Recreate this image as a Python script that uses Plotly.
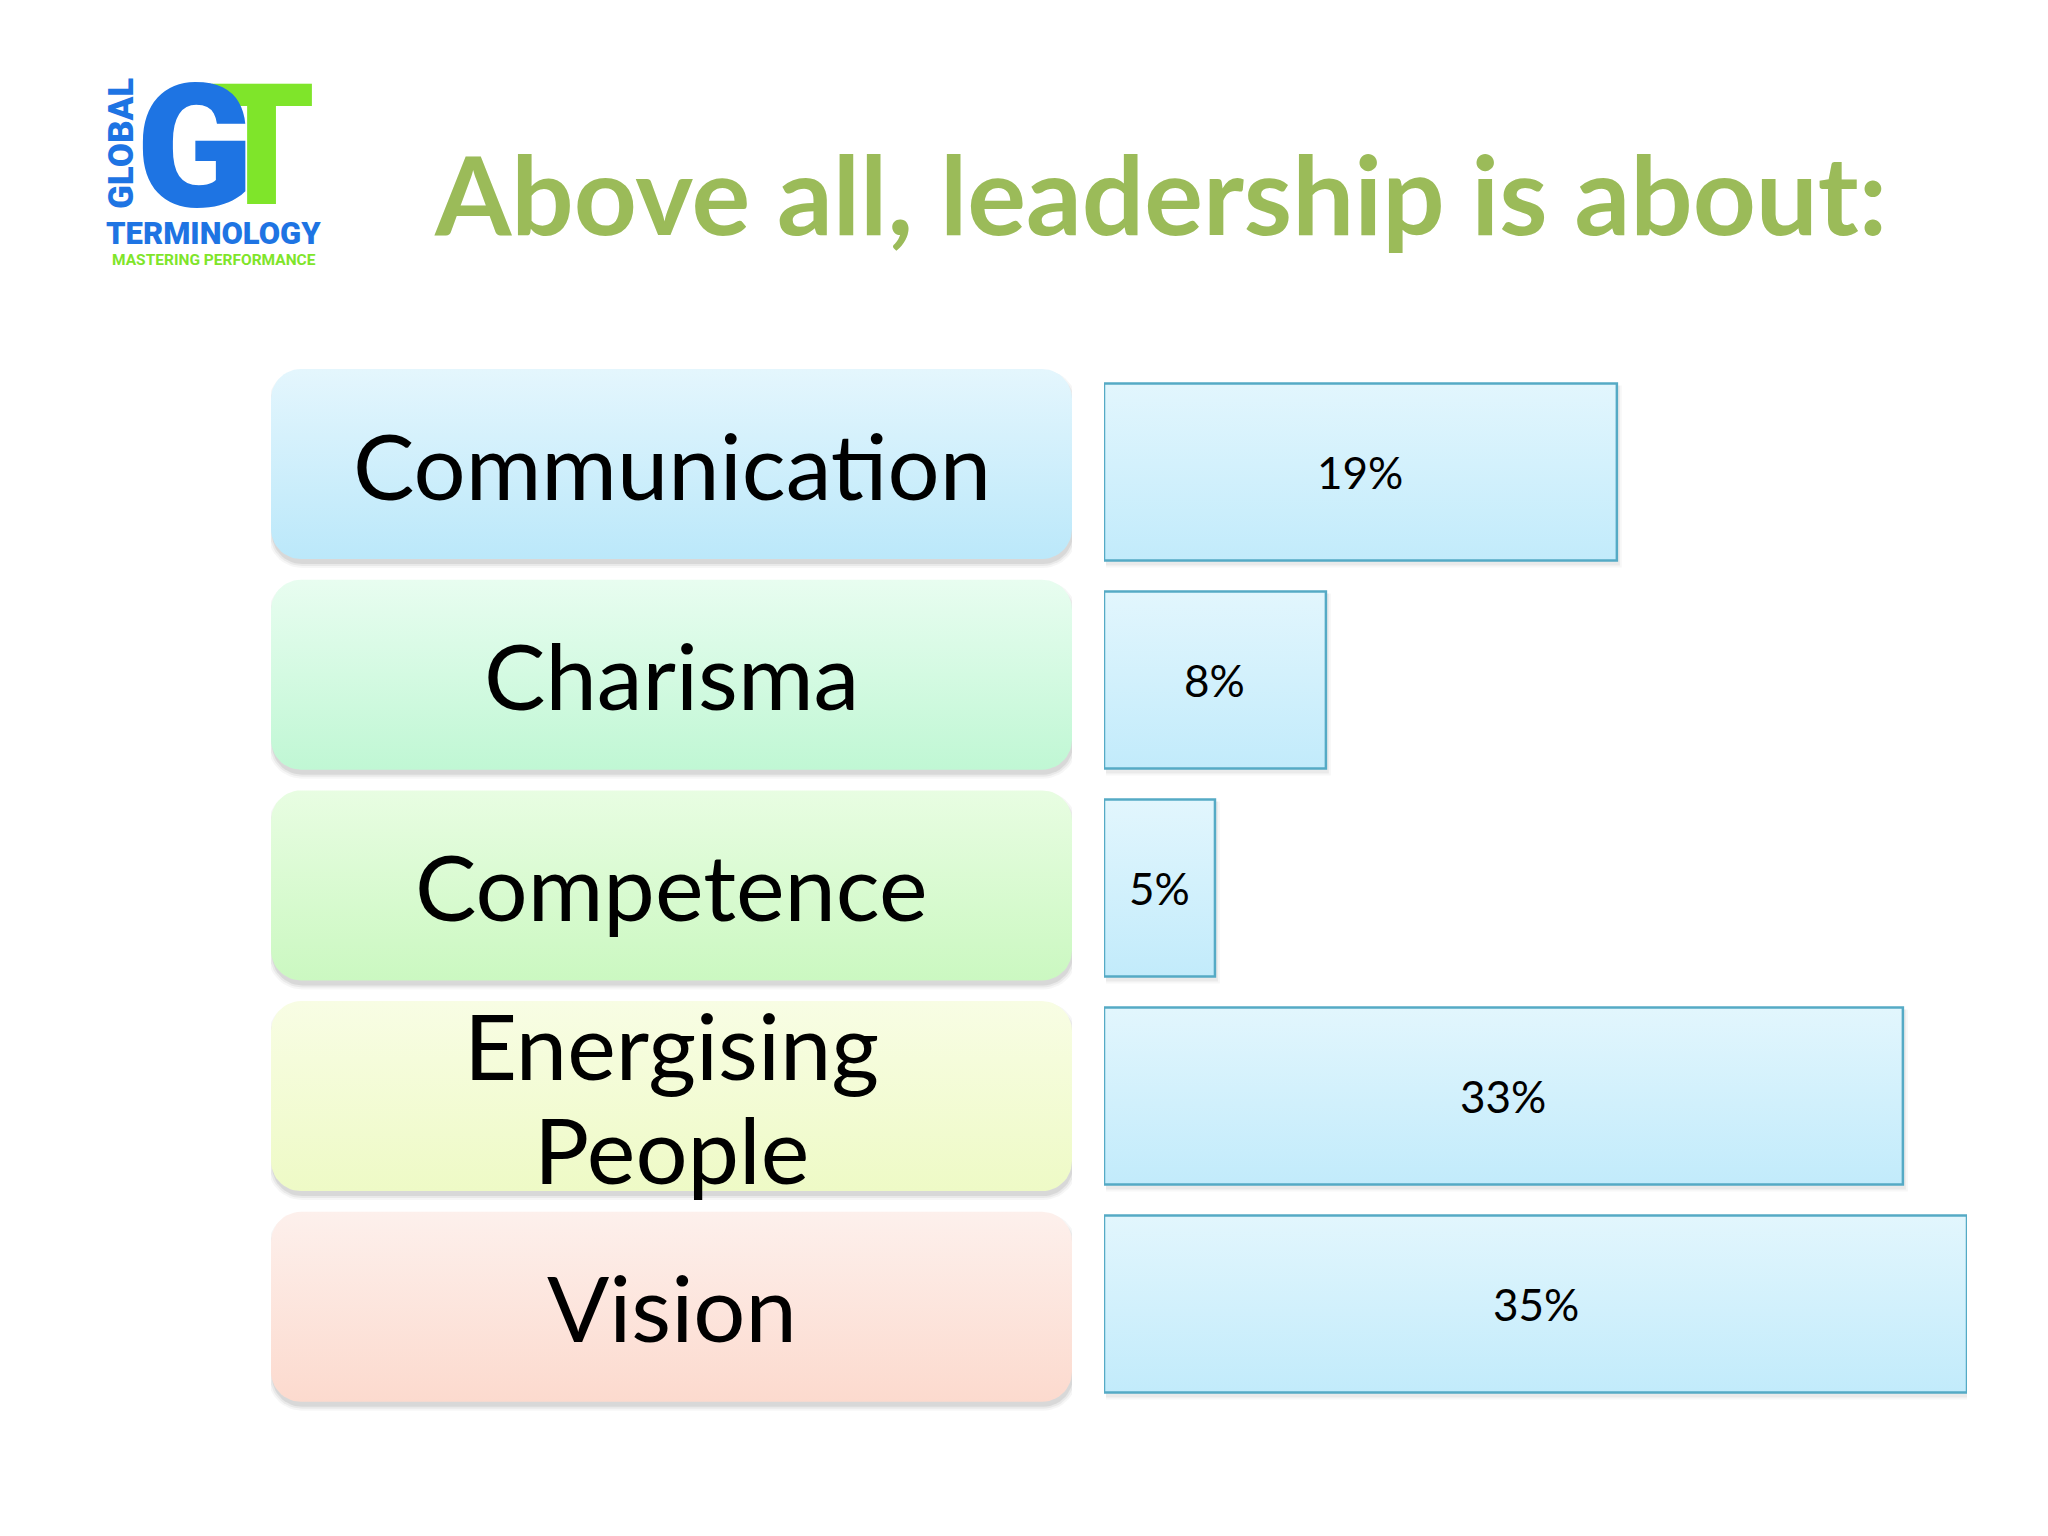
import numpy as np
import plotly.graph_objects as go

# ---------------- data ----------------
categories = ["Communication", "Charisma", "Competence", "Energising\nPeople", "Vision"]
share_labels = ["19%", "8%", "5%", "33%", "35%"]
# drawn bar lengths (percentage units)
bar_length = [20.8, 9.0, 4.5, 32.4, 35.0]

title_text = "Above all, leadership is about:"

# ---------------- style ----------------
W, H = 2048, 1536
BAR_X0, BAR_XMAX = 1104, 1967
BAR_Y0, BAR_PITCH, BAR_HALF = 472, 208, 88.5
BOX_X0, BOX_X1 = 271, 1072
BOX_Y0, BOX_PITCH, BOX_HALF, BOX_R = 464, 210.7, 95, 30

box_top = ["#E4F6FD", "#E8FDF0", "#E8FDE2", "#F8FDE4", "#FDF0EC"]
box_bot = ["#BBE8FA", "#C0F7D4", "#CBF8C1", "#EEFAC6", "#FCDACE"]
bar_top, bar_bot = "#E2F6FD", "#C2EBFB"
bar_line = "#55AAC5"
BLUE, GREEN = "#1E74E3", "#7FE52A"
TITLE_GREEN = "#9BBB59"

xmax = max(bar_length)
ux_bar = xmax / (BAR_XMAX - BAR_X0)      # data units per px
uy_bar = 1.0 / BAR_PITCH
ux_box = 1.0 / (BOX_X1 - BOX_X0)
uy_box = 1.0 / BOX_PITCH


def rounded_rect(x0, x1, y0, y1, rx, ry, n=14):
    xs, ys = [], []
    corners = [((x0 + rx, y0 + ry), 180, 270), ((x1 - rx, y0 + ry), 270, 360),
               ((x1 - rx, y1 - ry), 0, 90), ((x0 + rx, y1 - ry), 90, 180)]
    for (cx, cy), a0, a1 in corners:
        t = np.radians(np.linspace(a0, a1, n))
        xs.extend(cx + rx * np.cos(t))
        ys.extend(cy + ry * np.sin(t))
    xs.append(xs[0]); ys.append(ys[0])
    return xs, ys


fig = go.Figure()

# ---- category boxes (x2 / y2) ----
hb = BOX_HALF * uy_box
for i, cat in enumerate(categories):
    # soft shadow
    for grow, alpha in [(4, 0.035), (2, 0.05), (0, 0.07)]:
        sx, sy = rounded_rect(0 - grow * ux_box + 1 * ux_box, 1 + grow * ux_box + 1 * ux_box,
                              i - hb - grow * uy_box + 5 * uy_box, i + hb + grow * uy_box + 5 * uy_box,
                              (BOX_R + grow) * ux_box, (BOX_R + grow) * uy_box)
        fig.add_trace(go.Scatter(x=sx, y=sy, xaxis="x2", yaxis="y2", mode="lines",
                                 fill="toself", fillcolor=f"rgba(0,0,0,{alpha})",
                                 line=dict(width=0), hoverinfo="skip", showlegend=False))
    bx, by = rounded_rect(0, 1, i - hb, i + hb, BOX_R * ux_box, BOX_R * uy_box)
    fig.add_trace(go.Scatter(x=bx, y=by, xaxis="x2", yaxis="y2", mode="lines",
                             fill="toself", fillcolor=box_bot[i],
                             fillgradient=dict(type="vertical",
                                               colorscale=[[0, box_bot[i]], [1, box_top[i]]]),
                             line=dict(width=0), hoverinfo="skip", showlegend=False))
    lines = cat.split("\n")
    for k, line in enumerate(lines):
        fig.add_annotation(x=0.5, y=i, xref="x2", yref="y2", text=line, showarrow=False,
                           xanchor="center", yanchor="middle",
                           yshift=((len(lines) - 1) / 2 - k) * 104,
                           font=dict(family="Lato", size=92, color="#000000"))

# ---- bars (x / y) ----
hbar = BAR_HALF * uy_bar
for i, v in enumerate(bar_length):
    xs = [0, v, v, 0, 0]
    ys = [i - hbar, i - hbar, i + hbar, i + hbar, i - hbar]
    for grow, alpha in [(3, 0.03), (1, 0.05)]:
        dx, dy = (2 + grow) * ux_bar, (4 + grow) * uy_bar
        sx = [0 + 2 * ux_bar, v + dx, v + dx, 0 + 2 * ux_bar, 0 + 2 * ux_bar]
        sy = [i - hbar + 2 * uy_bar, i - hbar + 2 * uy_bar, i + hbar + dy, i + hbar + dy,
              i - hbar + 2 * uy_bar]
        fig.add_trace(go.Scatter(x=sx, y=sy, mode="lines", fill="toself",
                                 fillcolor=f"rgba(0,0,0,{alpha})", line=dict(width=0),
                                 hoverinfo="skip", showlegend=False))
    fig.add_trace(go.Scatter(x=xs, y=ys, mode="lines", fill="toself", fillcolor=bar_bot,
                             fillgradient=dict(type="vertical",
                                               colorscale=[[0, bar_bot], [1, bar_top]]),
                             line=dict(color=bar_line, width=2.5),
                             hoverinfo="skip", showlegend=False))
    fig.add_annotation(x=v / 2, y=i, xref="x", yref="y", text=share_labels[i],
                       showarrow=False, xanchor="center", yanchor="middle",
                       font=dict(family="Lato", size=44, color="#000000"))

# ---- title ----
fig.add_annotation(x=1160 / W, y=1 - 192 / H, xref="paper", yref="paper", text=title_text,
                   showarrow=False, xanchor="center", yanchor="middle",
                   font=dict(family="Lato", size=110, color=TITLE_GREEN, weight="bold"))

# ---- logo ----
def logo(text, cx, cy, size, color, angle=0, weight=900):
    fig.add_annotation(x=cx / W, y=1 - cy / H, xref="paper", yref="paper", text=text,
                       showarrow=False, xanchor="center", yanchor="middle", textangle=angle,
                       font=dict(family="Roboto", size=size, color=color, weight=weight))

logo("T", 262, 146, 168, GREEN)
logo("G", 194, 147, 172, BLUE)
logo("GLOBAL", 121, 144, 35, BLUE, angle=-90)
logo("TERMINOLOGY", 213, 233, 31, BLUE)
logo("MASTERING PERFORMANCE", 214, 260, 15.5, GREEN, weight="bold")

fig.update_layout(
    width=W, height=H, margin=dict(l=0, r=0, t=0, b=0),
    paper_bgcolor="white", plot_bgcolor="rgba(0,0,0,0)", showlegend=False,
    xaxis=dict(domain=[BAR_X0 / W, BAR_XMAX / W], range=[0, xmax], visible=False, fixedrange=True),
    yaxis=dict(domain=[0, 1], range=[(H - BAR_Y0) / BAR_PITCH, -BAR_Y0 / BAR_PITCH],
               visible=False, fixedrange=True),
    xaxis2=dict(domain=[BOX_X0 / W, BOX_X1 / W], range=[0, 1], visible=False,
                anchor="y2", fixedrange=True),
    yaxis2=dict(domain=[0, 1], range=[(H - BOX_Y0) / BOX_PITCH, -BOX_Y0 / BOX_PITCH],
                visible=False, anchor="x2", fixedrange=True),
)

fig.write_html("out.html", config={"displayModeBar": False},
               post_script="document.body.style.margin='0';document.body.style.overflow='hidden';")
